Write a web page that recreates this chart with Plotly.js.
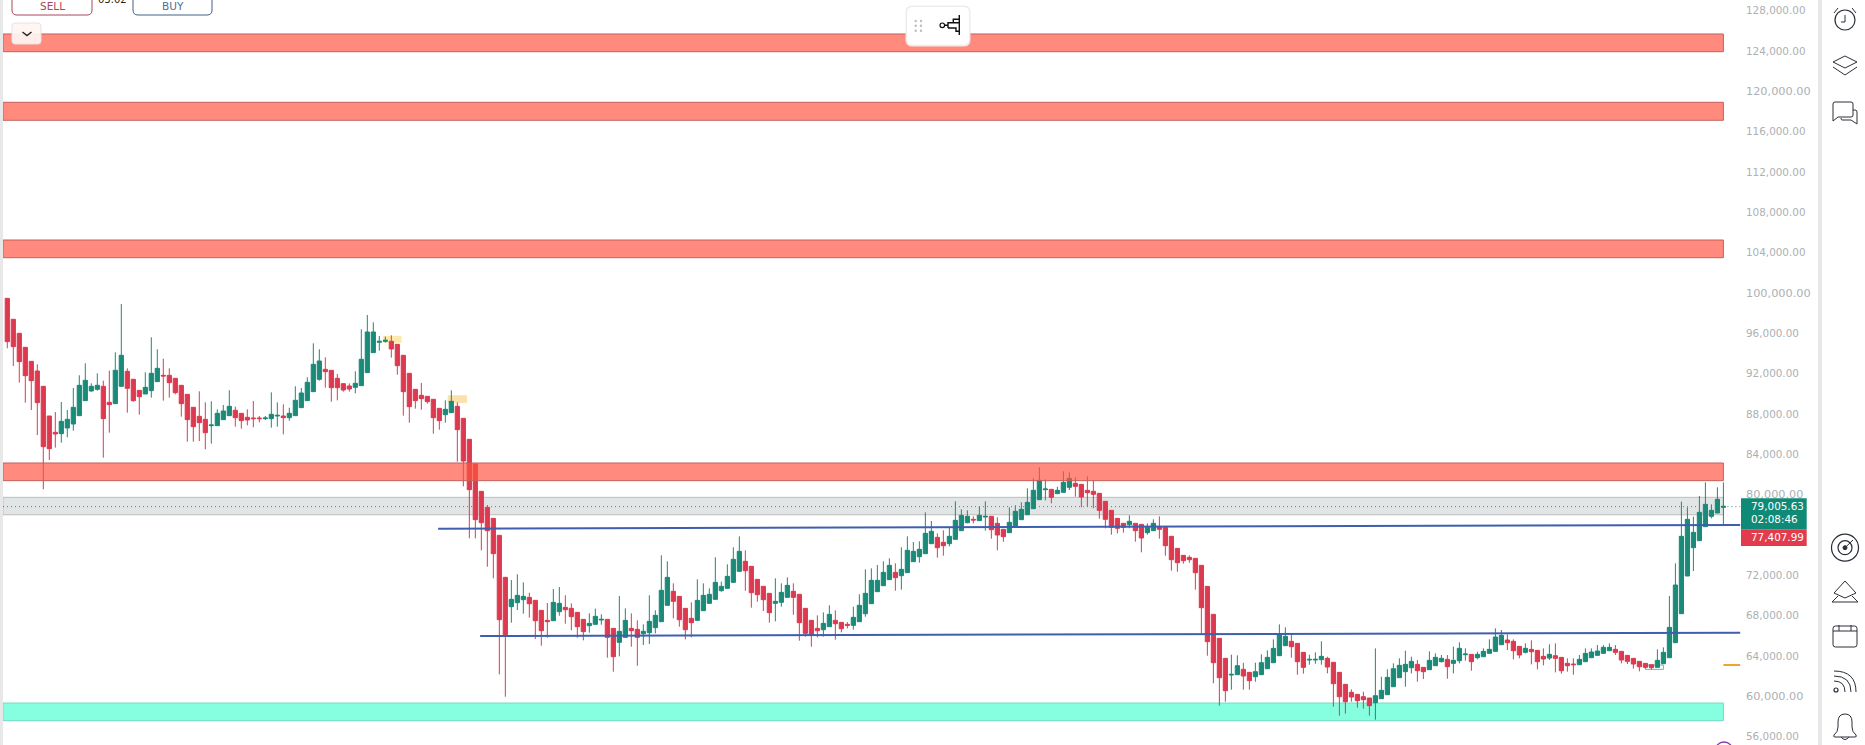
<!DOCTYPE html>
<html><head><meta charset="utf-8">
<script src="https://cdn.plot.ly/plotly-3.0.1.min.js"></script>
<style>html,body{margin:0;padding:0;background:#fff;overflow:hidden}#c{width:1865px;height:745px}</style>
</head><body><div id="c"></div>
<script>
const open=[99468,97385,95996,94607,93218,92259,90738,87794,86174,
86042,86604,87001,87828,89316,90275,90440,90738,89150,89018,90738,
92226,91432,90341,89977,90308,91201,91829,91829,91531,90837,89944,88654,87761,87464,
86835,86835,87431,87828,88357,88059,87662,87596,87596,87530,87530,87794,87794,
87629,87828,88621,89316,90209,91432,92424,92325,91531,91002,90771,
90638,90804,92094,94078,95103,95202,95202,94904,93813,92027,90440,89845,89746,89448,88555,
87927,88125,88753,87563,85480,83032,80321,78733,77642,75955,71789,
68878,69275,69572,69804,69506,68514,67522,67489,68382,68812,68713,68316,67621,
66993,67125,67555,67621,66728,65340,65836,66728,66629,66199,66299,66795,67390,69010,
70399,69903,68713,67721,67522,68481,69209,69606,70465,70697,71292,72383,
73376,72879,71590,70895,70201,69209,69308,69804,70399,70102,68713,67522,66728,
66596,66894,67522,67324,67125,67026,67390,68184,69176,70366,70961,71557,72284,
71954,72251,73342,73838,74136,75128,75757,75261,75128,75558,76418,77212,77542,77411,77774,
77840,77146,76550,76220,76749,77509,78005,78601,79493,80486,80519,80089,80221,80717,
81114,81015,80420,80320,80122,79328,78435,77642,77146,77013,77146,77047,76220,76418,
76815,76749,75856,74665,73971,73772,73673,72979,70895,68117,65736,63752,
62099,62132,62661,62364,61933,62132,62727,63322,64017,65009,65439,65240,64347,
63587,63587,63620,63752,63356,62364,61173,60379,60181,59949,59817,
59354,59751,60148,60941,61834,62430,62827,63157,62859,62628,63025,63422,63653,
63256,63521,64116,64149,63818,63917,64248,64446,65108,65571,65439,64942,64347,
64645,64546,63950,63785,64017,63851,63256,63190,63124,63422,63818,64050,64248,64513,
64645,64446,64050,63752,63454,63256,63124,
62859,63223,63818,65306,68184,71921,74731,75426,76815,77840,78171,78730];
const close=[95169,94673,93185,91796,91300,89117,84752,84554,86009,
87265,87464,88654,90837,91333,90738,90837,87530,88919,92325,93813,
90539,89316,89712,90638,92027,92523,91763,91101,90109,89018,87431,86736,87133,86141,
86902,88059,88290,88753,87629,87331,87398,87530,87530,87596,87960,87861,87629,
88059,89349,90076,91135,92920,93251,92193,90605,90605,90374,90473,
91035,93416,96128,96128,95202,95301,94442,92788,90209,88720,89316,89514,89216,87629,87331,
88456,89250,86439,83330,80486,77510,77212,76418,74137,67589,66101,
69606,70002,69903,69176,67489,66497,67390,69308,69209,68580,67886,66894,66398,
67224,67919,67621,65836,63917,66431,67522,66497,65836,66431,67423,68018,70498,71788,
69407,67588,66596,67291,69506,70002,70102,71292,70895,71887,73574,74368,
72450,70267,70069,69572,68283,69407,70300,70994,69804,67291,66232,66067,66497,
67224,68117,67191,66695,67026,67820,69010,70201,71491,71491,72284,72979,71755,
72582,74467,74368,74566,76153,76352,74731,74930,75856,77443,77939,77840,77476,77939,77840,
76517,75988,75823,77245,78336,78534,79229,80420,81412,80552,79725,80420,81213,81610,
80816,79758,80188,80023,78435,77542,76749,76650,76749,77344,76418,75691,76749,77146,
76550,74930,73541,73243,73442,73541,72251,68779,65406,63322,61834,60544,
62165,63025,61999,61536,62430,63322,63851,64744,66133,65935,64910,63422,62859,
63653,63653,63950,62892,61239,59949,59453,59916,59552,59652,59056,
60049,60578,61867,62727,63058,63157,63454,62529,62430,63554,63851,63752,62925,
63554,64744,64182,63422,64149,64446,64645,65869,66034,65306,64513,64083,64744,
64413,63422,63686,64149,63752,62529,63025,63124,63653,64248,64380,64479,64843,64843,
64347,63587,63454,63190,62925,62859,62827,
63554,64347,66828,71028,75856,77542,76252,78237,79031,78435,79527,78830];
const high=[99468,97385,95996,94607,93218,92920,90738,87794,88191,
89183,88390,90572,91829,93019,91035,92027,91300,92292,94111,98906,
92523,91432,90341,92127,95599,94408,93482,92523,91531,90837,89944,88654,90242,89150,
89250,88456,88886,90341,88720,88059,88456,89283,87794,87794,90142,89150,88952,
88621,90738,90572,91631,95004,94408,93615,92325,91961,91002,91035,
92226,96393,97815,97087,95731,95665,95797,94904,93813,92027,90440,91068,89746,89448,88555,
89349,90341,89150,87563,85480,83032,80321,78965,77642,75955,71789,
71524,72086,71292,70267,69506,68514,69242,70631,70829,70002,69209,68316,67621,
68217,68680,68117,67621,66728,69936,68713,68217,67522,67125,70002,68514,73971,73376,
71193,69903,68713,69308,71590,71193,70697,73772,71358,73078,74764,75856,
74467,72879,71590,70895,70201,71689,71193,71788,71193,70102,68713,67522,68018,
68316,69010,68514,67324,67357,68878,70102,72582,72681,73012,73376,73673,73177,
74764,75856,75294,75360,78237,77377,76153,76451,76683,79328,78534,78435,77840,78832,79328,
77840,77741,76550,78733,78931,79229,80618,81610,82701,81511,80519,80783,82304,82205,
81709,81015,81808,81412,80122,79328,78435,77642,77146,77939,77146,77047,77146,77542,
77840,76749,75856,74665,73971,73971,73673,72979,70895,68117,65736,63752,
64116,64050,63322,62364,63322,64149,64546,65637,67125,66828,66232,65240,64347,
64116,64347,65439,63917,63356,62364,61173,60677,60181,60445,59817,
64744,61933,62661,63256,63752,64513,63917,63587,62859,64446,64248,64083,64083,
64910,65340,64744,64149,64413,64744,65637,66728,66563,66133,65637,64942,65240,
65538,64546,64744,65141,65240,63851,63752,63752,64083,64744,64744,65075,65075,65240,
65075,64446,64050,63752,63454,63256,63124,
64645,64843,69936,73177,79295,78733,77807,79857,81213,79031,80717,81213];
const low=[94508,92755,91101,89117,88390,85909,80519,83429,84653,
85149,85678,86339,87828,89316,90209,90308,83661,86141,89018,90738,
88125,89216,87927,89977,89613,91201,89316,89613,89944,87728,85248,85248,85314,84487,
85050,86835,87431,87828,86736,86538,86868,86670,87166,87398,86637,86736,85976,
87331,87828,88621,89316,90209,91300,90605,89216,89349,90209,90209,
90043,90804,92094,94078,94276,95070,93582,91895,87828,87133,88522,88423,89018,86042,86439,
87133,88125,83264,80817,75658,75658,74467,72847,71689,62165,59949,
67291,68547,68184,67787,65670,65009,65802,67489,67985,67191,66530,65802,65538,
66299,67125,67092,63818,62429,63951,65836,64910,63025,65075,65174,66232,67390,69010,
67721,66894,65637,65836,67522,68481,69209,69606,70366,70697,71292,72383,
70465,68779,69374,68448,67291,67423,68878,69804,68084,65505,65902,64910,65836,
65902,66894,65604,66332,66728,66596,67390,67886,69176,70366,70961,71557,70465,
70565,72251,73342,73243,74136,75128,73739,73938,74864,75558,76418,77146,77146,77411,76418,
75625,74467,75327,76220,76749,77509,78005,78601,79493,79427,79130,80089,80221,80453,
79791,78733,78799,78634,77609,76650,76021,76153,76220,76650,75327,74269,76021,76418,
75625,73938,72450,72350,73144,73243,70565,66199,64017,61272,59056,59453,
60644,62132,60644,60644,61438,62132,62727,63322,64017,65009,63818,62132,62231,
63124,63223,63124,62264,58957,58064,58263,59453,58858,58758,58064,
57667,59751,60148,60941,61834,60941,62264,61438,61702,62628,63025,63355,61735,
62264,63256,63521,62529,63653,63917,64248,64446,65108,64579,63653,63752,64248,
63157,62661,63058,63587,62364,62231,62430,62132,63124,63422,63818,64050,64248,64513,
64083,63256,63190,62727,62463,62727,62661,
62859,63223,63818,65306,68184,71921,72417,75426,76815,77642,78171,76980];

const tickValues=[56000,60000,64000,68000,72000,76000,80000,84000,88000,92000,96000,100000,104000,108000,112000,116000,120000,124000,128000];
const supplyTops=[125689,118913,105253,83132];
const supplyBottoms=[123933,117128,103497,81379];
const midZone=[79726,77996];
const demandZone=[59321,57569];
const trendLeft=[76617,65968];
const trendRight=[76980,66298];
const lastLine=78799;
const orangeLevel=63091;

const GREEN='#1b8a78',RED='#dc3a50';
const W=1865,H=745,L=3,R=1745;
const fx=p=>(p-L)/(R-L), fy=p=>1-p/H;
const px=d=>d.replace(/(-?[\d.]+)[ ,](-?[\d.]+)/g,(m,a,b)=>fx(+a)+' '+fy(+b));
const idx=open.map((_,i)=>i);
const xMin=-0.717,xMax=289.6,xEnd=286,xLine=288.8;

const candle={type:'candlestick',x:idx,open,high,low,close,
 increasing:{line:{color:GREEN,width:1},fillcolor:GREEN},
 decreasing:{line:{color:RED,width:1},fillcolor:RED},
 whiskerwidth:0,hoverinfo:'skip',showlegend:false};

const shapes=[];
const dataRect=(x0,x1,y0,y1,fill,line,layer,lw)=>shapes.push({type:'rect',xref:'x',yref:'y',x0,x1,y0,y1,fillcolor:fill,line:{color:line,width:lw===undefined?1:lw},layer});
dataRect(xMin,xEnd,midZone[1],midZone[0],'#e2e5e5','#bdbdbd','below');
dataRect(xMin,xEnd,demandZone[1],demandZone[0],'#86ffe0','#70dcc5','below');
dataRect(62.6,65.7,95050,95750,'#fde9ab','#fde9ab','below',0);
dataRect(73.4,76.6,89100,89850,'#fbe0ab','#fbe0ab','below',0);
dataRect(273,276,62660,63090,'rgba(0,0,0,0)','#5cbfa8','below');
supplyTops.forEach((t,i)=>dataRect(xMin,xEnd,supplyBottoms[i],t,'rgba(255,83,64,0.68)','#c4605c','above'));
const hline=(x0,x1,y0,y1,color,width,dash)=>shapes.push({type:'line',xref:'x',yref:'y',x0,x1,y0,y1,line:{color,width,dash:dash||'solid'},layer:'above'});
hline(71.8,xLine,trendLeft[0],trendRight[0],'#3f5fae',2);
hline(78.8,xLine,trendLeft[1],trendRight[1],'#3f5fae',2);
hline(xMin,xEnd,lastLine,lastLine,'#6f7474',1,'1px,3px');
hline(xEnd,xLine,lastLine,lastLine,'#1b8a78',1,'1px,3px');
hline(xEnd,xLine,orangeLevel,orangeLevel,'#f0a431',2);

const rect=(x0,y0,x1,y1,fill,line)=>shapes.push({type:'rect',xref:'paper',yref:'paper',x0:fx(x0),x1:fx(x1),y0:fy(y0),y1:fy(y1),fillcolor:fill,line:{color:line||fill,width:line?1:0},layer:'above'});
const path=(d,stroke,fill,w)=>shapes.push({type:'path',xref:'paper',yref:'paper',path:px(d),fillcolor:fill||'rgba(0,0,0,0)',line:{color:stroke||'rgba(0,0,0,0)',width:w===undefined?1:w},layer:'above'});
const circ=(cx,cy,r,stroke,fill,w)=>shapes.push({type:'circle',xref:'paper',yref:'paper',x0:fx(cx-r),x1:fx(cx+r),y0:fy(cy+r),y1:fy(cy-r),fillcolor:fill||'rgba(0,0,0,0)',line:{color:stroke||'rgba(0,0,0,0)',width:w===undefined?1.2:w},layer:'above'});
const round=(x0,y0,x1,y1,r)=>`M${x0+r} ${y0} L${x1-r} ${y0} Q${x1} ${y0} ${x1} ${y0+r} L${x1} ${y1-r} Q${x1} ${y1} ${x1-r} ${y1} L${x0+r} ${y1} Q${x0} ${y1} ${x0} ${y1-r} L${x0} ${y0+r} Q${x0} ${y0} ${x0+r} ${y0} Z`;
rect(0,0,3,745,'#e8e8e8');
rect(1818,0,1822,745,'#e8e8e8');
rect(1741,498.3,1806.7,529.3,'#0f8a77');
rect(1741,529.3,1806.7,546,'#e23b4e');
path(round(12,-12,92,15,5),'#a9475a',null,1);
path(round(133,-12,212,15,5),'#3f6285',null,1);
path(round(12,23,41,44,3),'#e4e4e4','rgba(255,245,243,0.92)',1);
path('M22.5 32 L27 35.5 L31.5 32','#222',null,1.4);
path(round(906,6,970,46,6),'#f0eaea','#f3efef',1);
path(round(907,7,969,44.5,6),'#ffffff','#ffffff',0);
[21,25.7,30.7].forEach(y=>[915.7,921].forEach(x=>circ(x,y,1.2,null,'#bdbdbd',0)));
circ(942.3,25.3,2.3,'#111','#fff',1.2);
path('M944.6 25.3 L948 25.3 M948 28 L948 22.7 L953.3 22.7 M953.3 22.7 L953.3 19.3 L959 19.3 M948 28 L956 28 L956 31.3 L959 31.3 M953.3 22.7 L959 22.7 M959.3 15 L959.3 35','#111',null,1.4);
const IC='#2a2e39';
circ(1845,20,10,IC);
path('M1845 15 L1845 22 L1841 22 M1834 13 L1838 8 M1852 8 L1856 13',IC);
path('M1833 62 L1845 56 L1857 62 L1845 68 Z M1833 67 L1845 75 L1857 67',IC);
path('M1833 121 L1833 104 Q1833 102 1835 102 L1851 102 Q1853 102 1853 104 L1853 115 Q1853 117 1851 117 L1838 117 Z M1853 110 L1855 110 Q1857 110 1857 112 L1857 124 L1851 120 L1842 120 Q1841 120 1841 118',IC);
circ(1845,547.7,13.5,IC);
circ(1845,547.7,7,IC);
circ(1845,547.7,2,IC,IC,1);
path('M1845 547.7 L1853 540',IC);
path('M1845 581 L1856 593 L1845 598 L1834 593 Z M1838 596 L1832 602 L1858 602 L1852 596',IC);
path(round(1833,626,1857,647,2.5)+' M1833 631 L1857 631 M1839 625 L1839 631 M1851 625 L1851 631',IC);
circ(1836,690,2,IC);
path('M1834 681 Q1845 681 1845 692 M1834 676 Q1851 676 1851 692 M1834 671 Q1856 671 1856 692',IC);
path('M1834 735 Q1838 732 1838 727 L1838 722 Q1838 714 1845 714 Q1852 714 1852 722 L1852 727 Q1852 732 1856 735 Q1857 737 1855 737 L1835 737 Q1833 737 1834 735 Z M1841 737 Q1845 742 1849 737',IC);
circ(1724,751,9,'#8e3aa8',null,1.4);

const FONT='"DejaVu Sans", Verdana, sans-serif';
const ann=(t,x,y,color,size,anchor)=>({text:t,xref:'paper',yref:'paper',x:fx(x),y:fy(y),xanchor:anchor||'left',yanchor:'middle',showarrow:false,font:{family:FONT,size,color}});
const annotations=[
 ann('79,005.63',1749,505.7,'#ffffff',10.4),
 ann('02:08:46',1749,519.3,'#ffffff',10.4),
 ann('77,407.99',1749,536.7,'#ffffff',10.4),
 ann('SELL',52,6,'#a9475a',10.5,'center'),
 ann('BUY',173,6,'#4a6f9e',10.5,'center'),
 ann('03.02',112,-1,'#222',10,'center')
];
const fmt=v=>v.toLocaleString('en-US',{minimumFractionDigits:2,maximumFractionDigits:2});
const tickText=tickValues.map(v=>v%20000===0?`<span style="font-size:11.3px">${fmt(v)}</span>`:fmt(v));

Plotly.newPlot('c',[candle],{
 width:W,height:H,paper_bgcolor:'#fff',plot_bgcolor:'#fff',
 margin:{l:L,r:W-R,t:0,b:0,pad:0},showlegend:false,boxgap:0.3,boxgroupgap:0,
 xaxis:{visible:false,range:[xMin,xMax],rangeslider:{visible:false},fixedrange:true},
 yaxis:{side:'right',range:[55157,129061],tickmode:'array',tickvals:tickValues,ticktext:tickText,
  showgrid:false,zeroline:false,showline:false,ticks:'',tickfont:{family:FONT,size:10.4,color:'#adb0b4'}},
 shapes,annotations
},{staticPlot:true,displayModeBar:false});
</script></body></html>
